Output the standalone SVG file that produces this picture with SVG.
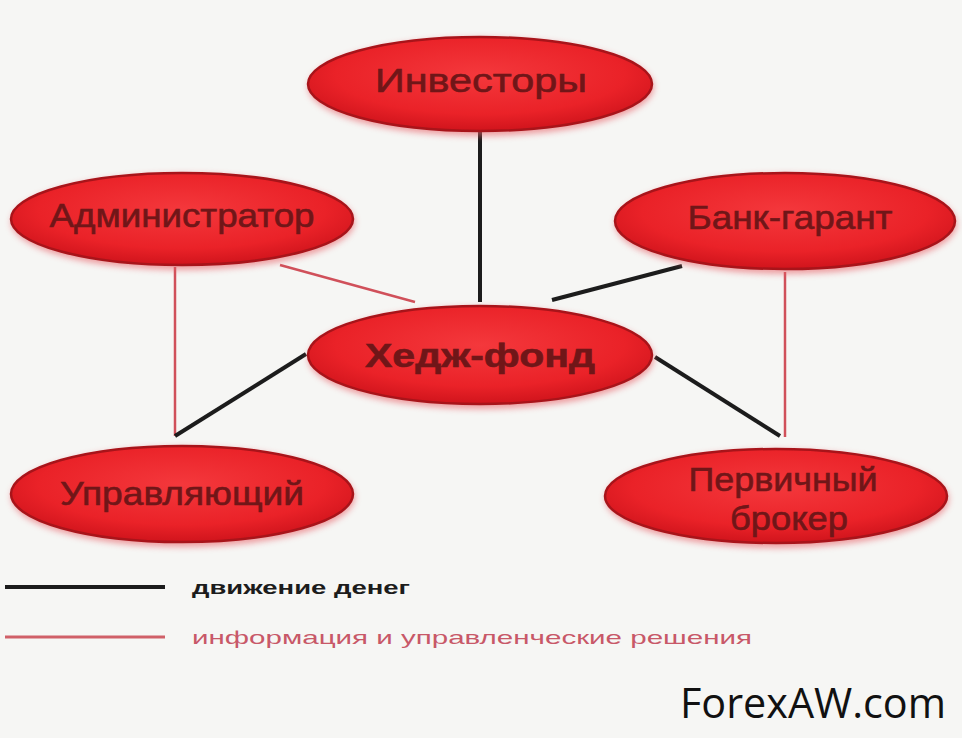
<svg xmlns="http://www.w3.org/2000/svg" width="962" height="738" viewBox="0 0 962 738">
<defs>
<radialGradient id="rg" cx="50%" cy="40%" r="60%">
<stop offset="0" stop-color="#f4383c"/>
<stop offset="0.7" stop-color="#ea2228"/>
<stop offset="1" stop-color="#d0141c"/>
</radialGradient>
<filter id="sh" x="-10%" y="-20%" width="120%" height="140%">
<feGaussianBlur stdDeviation="3"/>
</filter>
<style>
.sh{fill:#e86068;opacity:0.6;filter:url(#sh)}
.el{fill:url(#rg);stroke:#a8141a;stroke-width:2.5}
.lb{font-family:"Liberation Sans",Arial,sans-serif;font-size:34px;fill:#701618;stroke:#701618;stroke-width:0.6;text-anchor:middle}
.b{font-weight:bold}
.money{stroke:#1c1c1c;stroke-width:4;fill:none}
.info{stroke:#d0505a;stroke-width:2.5;fill:none}
.lg{font-family:"Liberation Sans",Arial,sans-serif;font-size:19px}
</style>
</defs>
<rect width="962" height="738" fill="#f6f6f4"/>
<g id="connectors">
<line class="money" x1="480" y1="132" x2="480" y2="302"/>
<line class="info" x1="280" y1="265" x2="415" y2="302"/>
<line class="money" x1="682" y1="266" x2="552" y2="300"/>
<line class="info" x1="175" y1="267" x2="175" y2="436"/>
<line class="money" x1="306" y1="354" x2="175" y2="436"/>
<line class="info" x1="785" y1="272" x2="785" y2="437"/>
<line class="money" x1="655" y1="357" x2="780" y2="436"/>
</g>
<g id="investors">
<ellipse class="sh" cx="481" cy="87" rx="173" ry="49"/>
<ellipse class="el" cx="480" cy="84" rx="172" ry="47"/>
<text class="lb" x="481" y="92" textLength="212" lengthAdjust="spacingAndGlyphs">Инвесторы</text>
</g>
<g id="administrator">
<ellipse class="sh" cx="183" cy="222" rx="172" ry="48"/>
<ellipse class="el" cx="182" cy="219" rx="171" ry="46"/>
<text class="lb" x="182" y="227" textLength="265" lengthAdjust="spacingAndGlyphs">Администратор</text>
</g>
<g id="bank">
<ellipse class="sh" cx="786" cy="224" rx="171" ry="50"/>
<ellipse class="el" cx="785" cy="221" rx="170" ry="48"/>
<text class="lb" x="790" y="229" textLength="205" lengthAdjust="spacingAndGlyphs">Банк-гарант</text>
</g>
<g id="hedgefund">
<ellipse class="sh" cx="481" cy="358" rx="173" ry="51"/>
<ellipse class="el" cx="480" cy="355" rx="172" ry="49"/>
<text class="lb b" x="480" y="367" textLength="230" lengthAdjust="spacingAndGlyphs">Хедж-фонд</text>
</g>
<g id="manager">
<ellipse class="sh" cx="183" cy="497" rx="172" ry="50"/>
<ellipse class="el" cx="182" cy="494" rx="171" ry="48"/>
<text class="lb" x="182" y="505" textLength="244" lengthAdjust="spacingAndGlyphs">Управляющий</text>
</g>
<g id="broker">
<ellipse class="sh" cx="777" cy="499" rx="172" ry="49"/>
<ellipse class="el" cx="776" cy="496" rx="171" ry="47"/>
<text class="lb" x="783" y="491" textLength="189" lengthAdjust="spacingAndGlyphs">Первичный</text>
<text class="lb" x="789" y="530" textLength="118" lengthAdjust="spacingAndGlyphs">брокер</text>
</g>
<g id="legend">
<line x1="5" y1="587" x2="165" y2="587" stroke="#1c1c1c" stroke-width="4"/>
<text class="lg" x="192" y="594" fill="#1c1c1c" font-weight="bold" textLength="218" lengthAdjust="spacingAndGlyphs">движение денег</text>
<line x1="5" y1="637" x2="165" y2="637" stroke="#d06068" stroke-width="3"/>
<text class="lg" x="192" y="644" fill="#c85868" textLength="560" lengthAdjust="spacingAndGlyphs">информация и управленческие решения</text>
</g>
<text x="680" y="718" font-family="'Open Sans',sans-serif" font-size="42" fill="#111" textLength="266" lengthAdjust="spacingAndGlyphs">ForexAW.com</text>
</svg>
